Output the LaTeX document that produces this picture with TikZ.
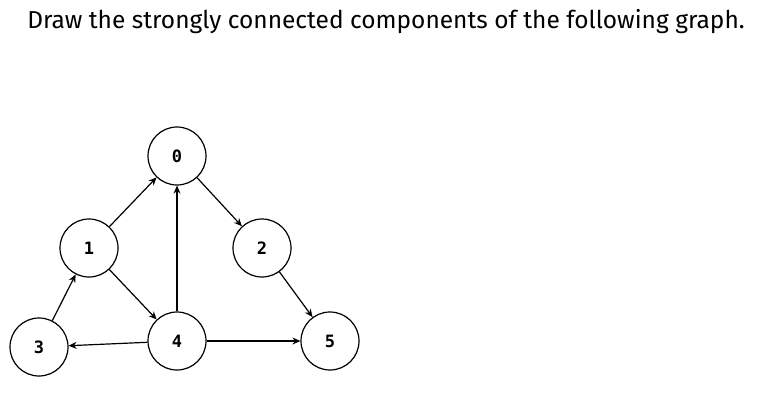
\documentclass[tikz,border=0pt]{standalone}
\usepackage{fontspec}
\setmainfont{Fira Sans}
\newfontfamily\digitfont{DejaVu Sans Mono}
\usetikzlibrary{arrows.meta}
\begin{document}
\begin{tikzpicture}[x=1pt,y=-1pt,
  vert/.style={circle,draw,line width=1.2pt,minimum size=58pt,inner sep=0pt,font=\digitfont\bfseries\fontsize{17}{17}\selectfont},
  edge/.style={-{Stealth[length=8pt,width=7pt]},line width=1.2pt}]
\useasboundingbox (0,0) rectangle (768,407);
\node[anchor=center,font=\fontsize{24.5}{28}\selectfont] (title) at (386,22) {Draw the strongly connected components of the following graph.};
\node[vert] (n0) at (177,156) {0};
\node[vert] (n1) at (89,248) {1};
\node[vert] (n2) at (262,248) {2};
\node[vert] (n3) at (39,347) {3};
\node[vert] (n4) at (177,341) {4};
\node[vert] (n5) at (330,341) {5};
\draw[edge] (n1) -- (n0);
\draw[edge] (n0) -- (n2);
\draw[edge] (n2) -- (n5);
\draw[edge] (n1) -- (n4);
\draw[edge] (n4) -- (n0);
\draw[edge] (n4) -- (n3);
\draw[edge] (n3) -- (n1);
\draw[edge] (n4) -- (n5);
\end{tikzpicture}
\end{document}
